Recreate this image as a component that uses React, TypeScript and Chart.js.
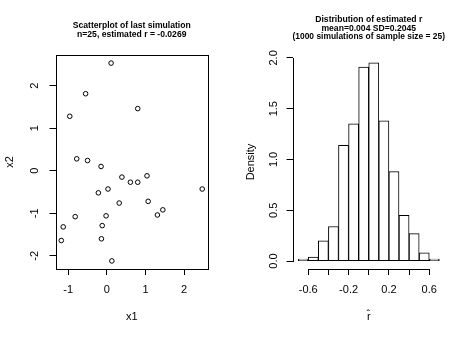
import { useEffect, useRef } from 'react';
import { Chart, registerables } from 'chart.js';

Chart.register(...registerables);

// Last simulated sample (n = 25)
const x1 = [0.11, -0.55, 0.8, -0.96, -0.78, -0.5, -0.15, 0.39, 1.04, 0.61, 0.8, 0.03, -0.22, 2.47, 0.32, 1.07, -0.82, -0.02, 1.45, 1.31, -1.13, -0.12, -1.18, -0.14, 0.13];
const x2 = [2.53, 1.81, 1.46, 1.28, 0.28, 0.24, 0.1, -0.15, -0.12, -0.27, -0.27, -0.43, -0.52, -0.43, -0.76, -0.72, -1.08, -1.06, -0.92, -1.04, -1.32, -1.29, -1.64, -1.6, -2.12];

const scatterXRange = [-1.33, 2.62];
const scatterYRange = [-2.31, 2.72];
const scatterXTicks = [-1, 0, 1, 2];
const scatterYTicks = [-2, -1, 0, 1, 2];

// Histogram of the 1000 estimated correlations (bin width 0.1)
const binMids = [-0.65, -0.55, -0.45, -0.35, -0.25, -0.15, -0.05, 0.05, 0.15, 0.25, 0.35, 0.45, 0.55, 0.65];
const density = [0.01, 0.04, 0.2, 0.34, 1.14, 1.35, 1.91, 1.95, 1.38, 0.88, 0.45, 0.27, 0.08, 0.01];

const histXRange = [-0.756, 0.756];
const histYRange = [-0.078, 2.028];
const histXTicks = [-0.6, -0.4, -0.2, 0, 0.2, 0.4, 0.6];
const histXLabelled = [-0.6, -0.2, 0.2, 0.6];
const histYTicks = [0, 0.5, 1, 1.5, 2];

const scatterTitle = ['Scatterplot of last simulation', 'n=25, estimated r = -0.0269'];
const histTitle = ['Distribution of estimated r', 'mean=0.004 SD=0.2045', '(1000 simulations of sample size = 25)'];

const FONT = "'Liberation Sans', Arial, Helvetica, sans-serif";
const INK = '#000';

Chart.defaults.font.family = FONT;
Chart.defaults.color = INK;

// Draws the R-style frame: a full box for the scatterplot, or axis lines
// running from the first to the last tick for the histogram.
const rFrame = {
  id: 'rFrame',
  afterDraw(chart: any, _args: any, opts: any) {
    const { ctx, chartArea: a } = chart;
    ctx.save();
    ctx.strokeStyle = INK;
    ctx.lineWidth = 1;
    if (opts.box) {
      ctx.strokeRect(
        Math.round(a.left) + 0.5,
        Math.round(a.top) + 0.5,
        Math.round(a.right) - Math.round(a.left),
        Math.round(a.bottom) - Math.round(a.top)
      );
    } else {
      const xs = chart.scales.x;
      const ys = chart.scales.y;
      const xt = xs.ticks;
      const yt = ys.ticks;
      const yb = Math.round(a.bottom) + 0.5;
      const xl = Math.round(a.left) + 0.5;
      ctx.beginPath();
      ctx.moveTo(Math.round(xs.getPixelForValue(xt[0].value)), yb);
      ctx.lineTo(Math.round(xs.getPixelForValue(xt[xt.length - 1].value)) + 1, yb);
      ctx.moveTo(xl, Math.round(ys.getPixelForValue(yt[0].value)) + 1);
      ctx.lineTo(xl, Math.round(ys.getPixelForValue(yt[yt.length - 1].value)));
      ctx.stroke();
    }
    ctx.restore();
  },
};

const tickGrid = {
  display: true,
  drawOnChartArea: false,
  drawTicks: true,
  tickLength: 6,
  color: INK,
  lineWidth: 1,
};

const tickFont = { size: 11 };
const axisTitleFont = { size: 11 };
const mainTitleFont = { size: 8.6, weight: 'bold' as const, lineHeight: 1.035 };

function setTicks(values: number[]) {
  return (scale: any) => {
    scale.ticks = values.map((v) => ({ value: v }));
  };
}

function scatterConfig(): any {
  return {
    type: 'scatter',
    data: {
      datasets: [
        {
          data: x1.map((v, i) => ({ x: v, y: x2[i] })),
          pointRadius: 2.3,
          pointHoverRadius: 2.3,
          borderColor: INK,
          backgroundColor: 'rgba(0,0,0,0)',
          borderWidth: 1,
        },
      ],
    },
    options: {
      responsive: false,
      animation: false,
      devicePixelRatio: 1,
      events: [],
      layout: { padding: { left: 0, right: 29, top: 0, bottom: 0 } },
      plugins: {
        legend: { display: false },
        tooltip: { enabled: false },
        title: {
          display: true,
          fullSize: false,
          text: scatterTitle,
          font: mainTitleFont,
          color: INK,
          padding: { top: 20.8, bottom: 16.4 },
        },
        rFrame: { box: true },
      },
      scales: {
        x: {
          type: 'linear',
          min: scatterXRange[0],
          max: scatterXRange[1],
          afterBuildTicks: setTicks(scatterXTicks),
          afterFit: (s: any) => {
            s.height = 69;
          },
          grid: tickGrid,
          border: { display: false },
          ticks: {
            font: tickFont,
            color: INK,
            padding: 8.4,
            autoSkip: false,
            maxRotation: 0,
            callback: (v: number) => String(v),
          },
          title: { display: true, text: 'x1', font: axisTitleFont, color: INK, padding: { top: 0, bottom: 14.7 } },
        },
        y: {
          type: 'linear',
          min: scatterYRange[0],
          max: scatterYRange[1],
          afterBuildTicks: setTicks(scatterYTicks),
          afterFit: (s: any) => {
            s.width = 55.5;
          },
          grid: tickGrid,
          border: { display: false },
          ticks: {
            font: tickFont,
            color: INK,
            padding: 9.3,
            autoSkip: false,
            minRotation: 90,
            maxRotation: 90,
            crossAlign: 'center',
            callback: (v: number) => String(v),
          },
          title: { display: true, text: 'x2', font: axisTitleFont, color: INK, padding: { top: 3.4, bottom: 0 } },
        },
      },
    },
    plugins: [rFrame],
  };
}

function histConfig(): any {
  return {
    type: 'bar',
    data: {
      datasets: [
        {
          data: binMids.map((m, i) => ({ x: m, y: density[i] })),
          backgroundColor: '#fff',
          borderColor: INK,
          borderWidth: 1,
          borderSkipped: false,
          barPercentage: 1,
          categoryPercentage: 1,
          minBarLength: 2,
        },
      ],
    },
    options: {
      responsive: false,
      animation: false,
      devicePixelRatio: 1,
      events: [],
      layout: { padding: { left: 0, right: 29, top: 0, bottom: 0 } },
      plugins: {
        legend: { display: false },
        tooltip: { enabled: false },
        title: {
          display: true,
          fullSize: false,
          text: histTitle,
          font: mainTitleFont,
          color: INK,
          padding: { top: 14.8, bottom: 13.5 },
        },
        rFrame: { box: false },
      },
      scales: {
        x: {
          type: 'linear',
          offset: false,
          min: histXRange[0],
          max: histXRange[1],
          afterBuildTicks: setTicks(histXTicks),
          afterFit: (s: any) => {
            s.height = 69;
          },
          grid: { ...tickGrid, offset: false },
          border: { display: false },
          ticks: {
            font: tickFont,
            color: INK,
            padding: 8.4,
            autoSkip: false,
            maxRotation: 0,
            callback: (v: number) =>
              histXLabelled.some((l) => Math.abs(l - v) < 1e-9) ? v.toFixed(1) : '',
          },
          title: { display: true, text: 'r\u0302', font: axisTitleFont, color: INK, padding: { top: 0, bottom: 14.7 } },
        },
        y: {
          type: 'linear',
          min: histYRange[0],
          max: histYRange[1],
          afterBuildTicks: setTicks(histYTicks),
          afterFit: (s: any) => {
            s.width = 55.5;
          },
          grid: tickGrid,
          border: { display: false },
          ticks: {
            font: tickFont,
            color: INK,
            padding: 5.2,
            autoSkip: false,
            minRotation: 90,
            maxRotation: 90,
            crossAlign: 'center',
            callback: (v: number) => v.toFixed(1),
          },
          title: { display: true, text: 'Density', font: axisTitleFont, color: INK, padding: { top: 7.4, bottom: 0 } },
        },
      },
    },
    plugins: [rFrame],
  };
}

export default function App() {
  const leftRef = useRef<HTMLCanvasElement>(null);
  const rightRef = useRef<HTMLCanvasElement>(null);

  useEffect(() => {
    if (!leftRef.current || !rightRef.current) return;
    const left = new Chart(leftRef.current, scatterConfig());
    const right = new Chart(rightRef.current, histConfig());
    return () => {
      left.destroy();
      right.destroy();
    };
  }, []);

  return (
    <div style={{ position: 'absolute', left: 0, top: 0, width: 474, height: 338, background: '#fff' }}>
      <canvas ref={leftRef} width={237} height={338} style={{ position: 'absolute', left: 0, top: 0 }} />
      <canvas ref={rightRef} width={237} height={338} style={{ position: 'absolute', left: 237, top: 0 }} />
    </div>
  );
}
